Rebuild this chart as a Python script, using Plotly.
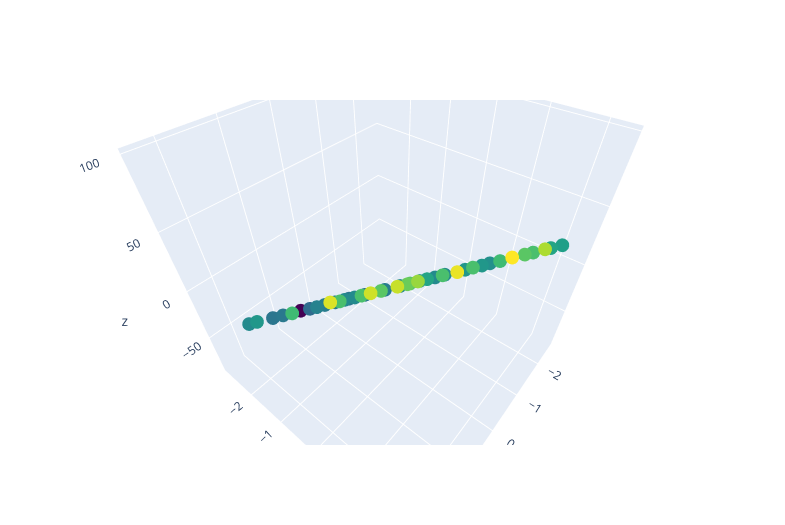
import plotly.graph_objects as go

x = [2.3, 2.29, 1.8, 1.67, 2.2, 0.4, 1.13, 1.27, 1.09, 2.5, 0.93, 1.71, 0.94, 0.61, 0.79, 1.45, 0.35, 2.1, 1.33, 0.13, 1.82, 0.08, 1.14, 0.98, 1.32, -0.02, 0.09, -0.49, 0.43, -0.66, 1.5, -0.75, 0.02, -1.03, -1.34, -0.47, 1.15, -0.53, -0.84, 0.04, -1.92, -2.26]
y = [-1.32, -1.02, -1.48, -1.34, -0.06, -2.85, -1.29, -0.84, -0.85, 1.22, -0.75, 0.37, -0.46, -0.73, -0.36, 0.53, -0.56, 1.37, 0.79, -0.24, 1.49, 0.09, 1.09, 1.01, 1.39, 0.45, 0.68, 0.46, 1.18, 0.56, 2.0, 0.92, 1.44, 1.1, 1.11, 1.64, 2.39, 1.97, 1.99, 2.38, 1.96, 2.06]
z = [5.0, 14.8, -10.7, -8.7, 44.2, -84.5, -18.5, -0.9, -4.8, 93.2, -4.8, 48.1, 5.0, -10.7, 5.0, 48.1, -10.7, 89.3, 54.0, -4.8, 87.3, 5.0, 59.9, 54.0, 73.6, 14.8, 24.6, 5.0, 48.1, 5.0, 97.1, 14.8, 48.1, 14.8, 8.9, 44.2, 103.0, 54.0, 48.1, 79.5, 24.6, 20.7]

fig = go.Figure(go.Scatter3d(x=x, y=y, z=z, mode="markers",
    marker=dict(size=8, color=z, colorscale="Viridis", opacity=1)))
fig.update_layout(
    width=777, height=517,
    margin=dict(l=72, r=80, t=92, b=80),
    scene=dict(
        xaxis=dict(title="x", range=[-2.7, 2.5]),
        yaxis=dict(title="y", range=[-2.99, 2.5]),
        zaxis=dict(title="z", range=[-93, 103]),
        aspectmode="cube",
        camera=dict(eye=dict(x=0.82, y=0.675, z=1.0)),
    ),
)
fig.write_html("out.html")
